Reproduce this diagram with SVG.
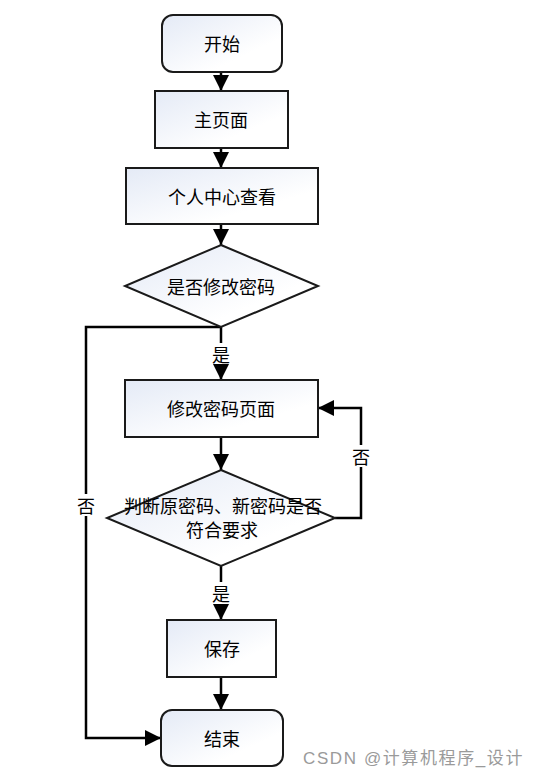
<svg xmlns="http://www.w3.org/2000/svg" width="541" height="777" viewBox="0 0 541 777">
<defs>
<linearGradient id="g" x1="0" y1="0" x2="1" y2="1">
<stop offset="0" stop-color="#e4eaf6"/>
<stop offset="0.7" stop-color="#ffffff"/>
</linearGradient>
<marker id="ah" viewBox="0 0 16 16" refX="16" refY="8" markerWidth="16" markerHeight="16" markerUnits="userSpaceOnUse" orient="auto">
<path d="M0,0 L16,8 L0,16 Z" fill="#000"/>
</marker>
<style>
.n{fill:url(#g);stroke:#1a1a1a;stroke-width:2}
.t{font-family:"Noto Sans CJK SC","Liberation Sans",sans-serif;font-size:18px;fill:#000;text-anchor:middle;dominant-baseline:central}
.c{fill:none;stroke:#000;stroke-width:2.5}
.w{font-family:"Liberation Sans","Noto Sans CJK SC",sans-serif;font-size:17px;letter-spacing:1.6px;fill:#9a9a9a}
</style>
</defs>
<g id="connectors">
<line class="c" x1="221" y1="72" x2="221" y2="91" marker-end="url(#ah)"/>
<line class="c" x1="221" y1="148" x2="221" y2="168" marker-end="url(#ah)"/>
<line class="c" x1="221" y1="224" x2="221" y2="245" marker-end="url(#ah)"/>
<line class="c" x1="221" y1="327" x2="221" y2="343"/>
<line class="c" x1="221" y1="366" x2="221" y2="380" marker-end="url(#ah)"/>
<line class="c" x1="221" y1="437" x2="221" y2="470" marker-end="url(#ah)"/>
<line class="c" x1="221" y1="566" x2="221" y2="582"/>
<line class="c" x1="221" y1="604" x2="221" y2="620" marker-end="url(#ah)"/>
<line class="c" x1="221" y1="677" x2="221" y2="710" marker-end="url(#ah)"/>
<polyline class="c" points="221,327 86,327 86,494"/>
<polyline class="c" points="86,516 86,738 161,738" marker-end="url(#ah)"/>
<polyline class="c" points="335,518 361,518 361,467"/>
<polyline class="c" points="361,445 361,408 318,408" marker-end="url(#ah)"/>
<text class="t" x="221" y="354">是</text>
<text class="t" x="221" y="593">是</text>
<text class="t" x="86" y="505">否</text>
<text class="t" x="361" y="456">否</text>
</g>
<g id="start">
<rect class="n" x="162" y="15" width="120" height="57" rx="11"/>
<text class="t" x="222" y="43">开始</text>
</g>
<g id="main">
<rect class="n" x="155" y="91" width="133" height="57"/>
<text class="t" x="221" y="119">主页面</text>
</g>
<g id="center">
<rect class="n" x="126" y="168" width="192" height="56"/>
<text class="t" x="222" y="196">个人中心查看</text>
</g>
<g id="d1">
<polygon class="n" points="221,245 318,286 221,327 125,286"/>
<text class="t" x="221" y="286">是否修改密码</text>
</g>
<g id="modify">
<rect class="n" x="125" y="380" width="193" height="57"/>
<text class="t" x="221" y="408">修改密码页面</text>
</g>
<g id="d2">
<polygon class="n" points="221,470 335,518 221,566 107,518"/>
<text class="t" x="223" y="505">判断原密码、新密码是否</text>
<text class="t" x="222" y="529">符合要求</text>
</g>
<g id="save">
<rect class="n" x="167" y="620" width="109" height="57"/>
<text class="t" x="222" y="648">保存</text>
</g>
<g id="end">
<rect class="n" x="161" y="710" width="122" height="56" rx="11"/>
<text class="t" x="222" y="738">结束</text>
</g>
<text class="w" x="303" y="764">CSDN @计算机程序_设计</text>
</svg>
